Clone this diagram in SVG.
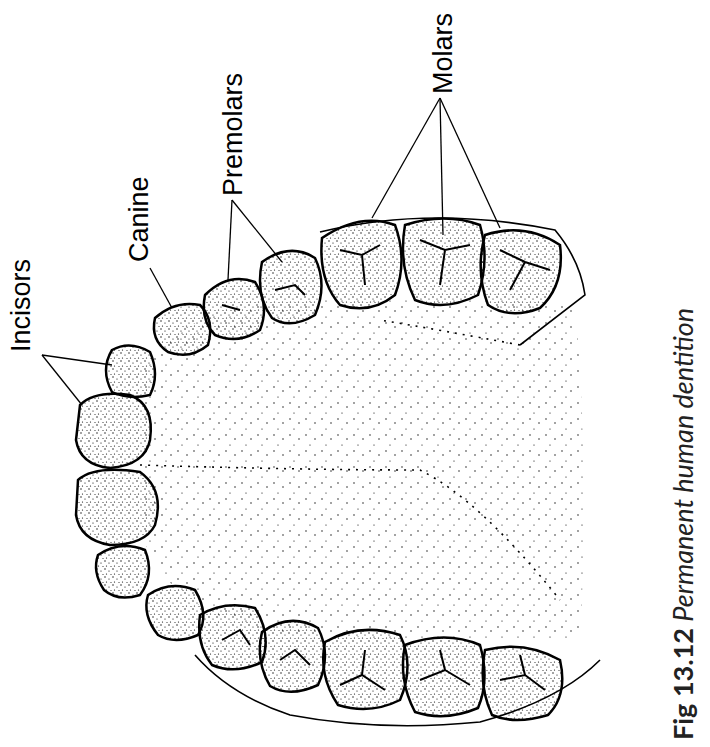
<svg xmlns="http://www.w3.org/2000/svg" width="710" height="747" viewBox="0 0 710 747">
<defs>
<pattern id="dense" width="8" height="8" patternUnits="userSpaceOnUse">
<circle cx="1" cy="1" r="0.7" fill="#000"/><circle cx="5" cy="3" r="0.6" fill="#000"/><circle cx="2.5" cy="6" r="0.6" fill="#000"/><circle cx="7" cy="6.5" r="0.5" fill="#000"/>
</pattern>
<pattern id="light" width="16" height="16" patternUnits="userSpaceOnUse">
<circle cx="2" cy="3" r="0.7" fill="#000"/><circle cx="11" cy="7" r="0.7" fill="#000"/><circle cx="6" cy="13" r="0.6" fill="#000"/>
</pattern>
<style>
.t{fill:url(#dense);stroke:#000;stroke-width:2.5}
.g{fill:none;stroke:#000;stroke-width:1.6}
.l{stroke:#000;stroke-width:1.3;fill:none}
.c{stroke:#000;stroke-width:2;fill:none}
.lab{font-family:"Liberation Sans",Arial,sans-serif;font-size:27px}
</style>
</defs>
<rect width="710" height="747" fill="#fff"/>
<g id="palate">
<path d="M140,380 Q160,320 260,305 Q400,290 575,305 Q590,470 580,640 Q420,645 260,630 Q150,600 140,520 Z" fill="url(#light)"/>
</g>
<g id="gums">
<path class="g" d="M320,232 Q430,205 555,230 Q580,260 585,295 L520,345"/>
<path class="g" d="M600,660 Q560,700 480,722 Q380,732 290,715 Q230,695 195,655"/>
<path class="g" d="M520,345 Q440,330 380,320" stroke-dasharray="2 6"/>
<path class="g" d="M140,465 Q300,470 420,470 Q480,500 560,600" stroke-dasharray="2 6"/>
</g>
<g id="teeth">
<path id="inc1" class="t" d="M80,405 Q95,390 130,395 Q155,405 150,440 Q145,465 110,468 Q80,465 76,440 Z"/>
<path id="inc2" class="t" d="M112,350 Q130,340 150,352 Q160,375 150,395 Q128,400 112,392 Q100,370 112,350 Z"/>
<path id="can" class="t" d="M155,318 Q175,300 200,305 Q215,320 208,345 Q190,360 168,352 Q150,340 155,318 Z"/>
<path id="pm1" class="t" d="M205,295 Q228,272 255,282 Q270,305 260,330 Q238,345 215,335 Q200,320 205,295 Z"/>
<path id="pm2" class="t" d="M262,262 Q290,242 315,258 Q328,285 315,315 Q290,330 272,318 Q255,295 262,262 Z"/>
<path id="m1" class="t" d="M322,238 Q360,212 395,225 Q408,260 395,295 Q370,315 340,305 Q318,280 322,238 Z"/>
<path id="m2" class="t" d="M405,225 Q445,212 480,225 Q490,260 478,295 Q445,312 415,300 Q398,265 405,225 Z"/>
<path id="m3" class="t" d="M485,235 Q525,222 560,245 Q565,285 540,308 Q510,320 488,305 Q475,270 485,235 Z"/>
<path id="inc3" class="t" d="M78,480 Q95,465 140,472 Q165,490 155,525 Q145,545 110,545 Q80,540 76,515 Z"/>
<path id="inc4" class="t" d="M98,555 Q120,540 145,550 Q155,575 140,595 Q118,602 104,590 Q92,572 98,555 Z"/>
<path id="can2" class="t" d="M148,595 Q170,580 195,590 Q210,615 198,635 Q175,645 158,635 Q142,615 148,595 Z"/>
<path id="pm3" class="t" d="M200,615 Q225,600 255,608 Q272,635 262,662 Q235,675 212,665 Q196,645 200,615 Z"/>
<path id="pm4" class="t" d="M262,632 Q290,612 318,628 Q332,655 318,685 Q290,698 270,686 Q255,660 262,632 Z"/>
<path id="m4" class="t" d="M325,642 Q360,622 400,635 Q415,665 400,700 Q370,715 338,705 Q318,675 325,642 Z"/>
<path id="m5" class="t" d="M405,645 Q445,630 480,645 Q490,680 478,708 Q445,722 415,712 Q398,680 405,645 Z"/>
<path id="m6" class="t" d="M485,650 Q525,640 560,660 Q568,695 548,715 Q515,725 492,715 Q478,685 485,650 Z"/>
</g>
<g id="cusps">
<path class="c" d="M340,250 L362,255 L380,245 M362,255 L365,285"/>
<path class="c" d="M420,240 L445,250 L470,245 M445,250 L440,285"/>
<path class="c" d="M500,250 L525,262 L550,270 M525,262 L510,290"/>
<path class="c" d="M275,290 L295,285 L305,295"/>
<path class="c" d="M222,305 L240,310"/>
<path class="c" d="M340,685 L362,675 L385,690 M362,675 L365,650"/>
<path class="c" d="M420,680 L445,670 L470,685 M445,670 L440,650"/>
<path class="c" d="M500,680 L525,675 L545,690 M525,675 L520,655"/>
<path class="c" d="M280,660 L295,650 L310,665"/>
<path class="c" d="M222,640 L240,630 L250,645"/>
</g>
<g id="connectors">
<line class="l" x1="42" y1="355" x2="112" y2="365"/>
<line class="l" x1="42" y1="355" x2="82" y2="405"/>
<line class="l" x1="150" y1="268" x2="172" y2="308"/>
<line class="l" x1="232" y1="200" x2="228" y2="280"/>
<line class="l" x1="232" y1="200" x2="282" y2="262"/>
<line class="l" x1="440" y1="98" x2="372" y2="218"/>
<line class="l" x1="440" y1="98" x2="443" y2="235"/>
<line class="l" x1="440" y1="98" x2="500" y2="228"/>
</g>
<g id="labels">
<text class="lab" transform="translate(30,352) rotate(-90)">Incisors</text>
<text class="lab" transform="translate(148,262) rotate(-90)">Canine</text>
<text class="lab" transform="translate(242,196) rotate(-90)">Premolars</text>
<text class="lab" transform="translate(452,94) rotate(-90)">Molars</text>
<text transform="translate(693,740) rotate(-90)" style="font-family:Lato,'Open Sans',sans-serif;font-size:27px;fill:#222"><tspan font-weight="bold">Fig 13.12</tspan><tspan font-style="italic"> Permanent human dentition</tspan></text>
</g>
</svg>
